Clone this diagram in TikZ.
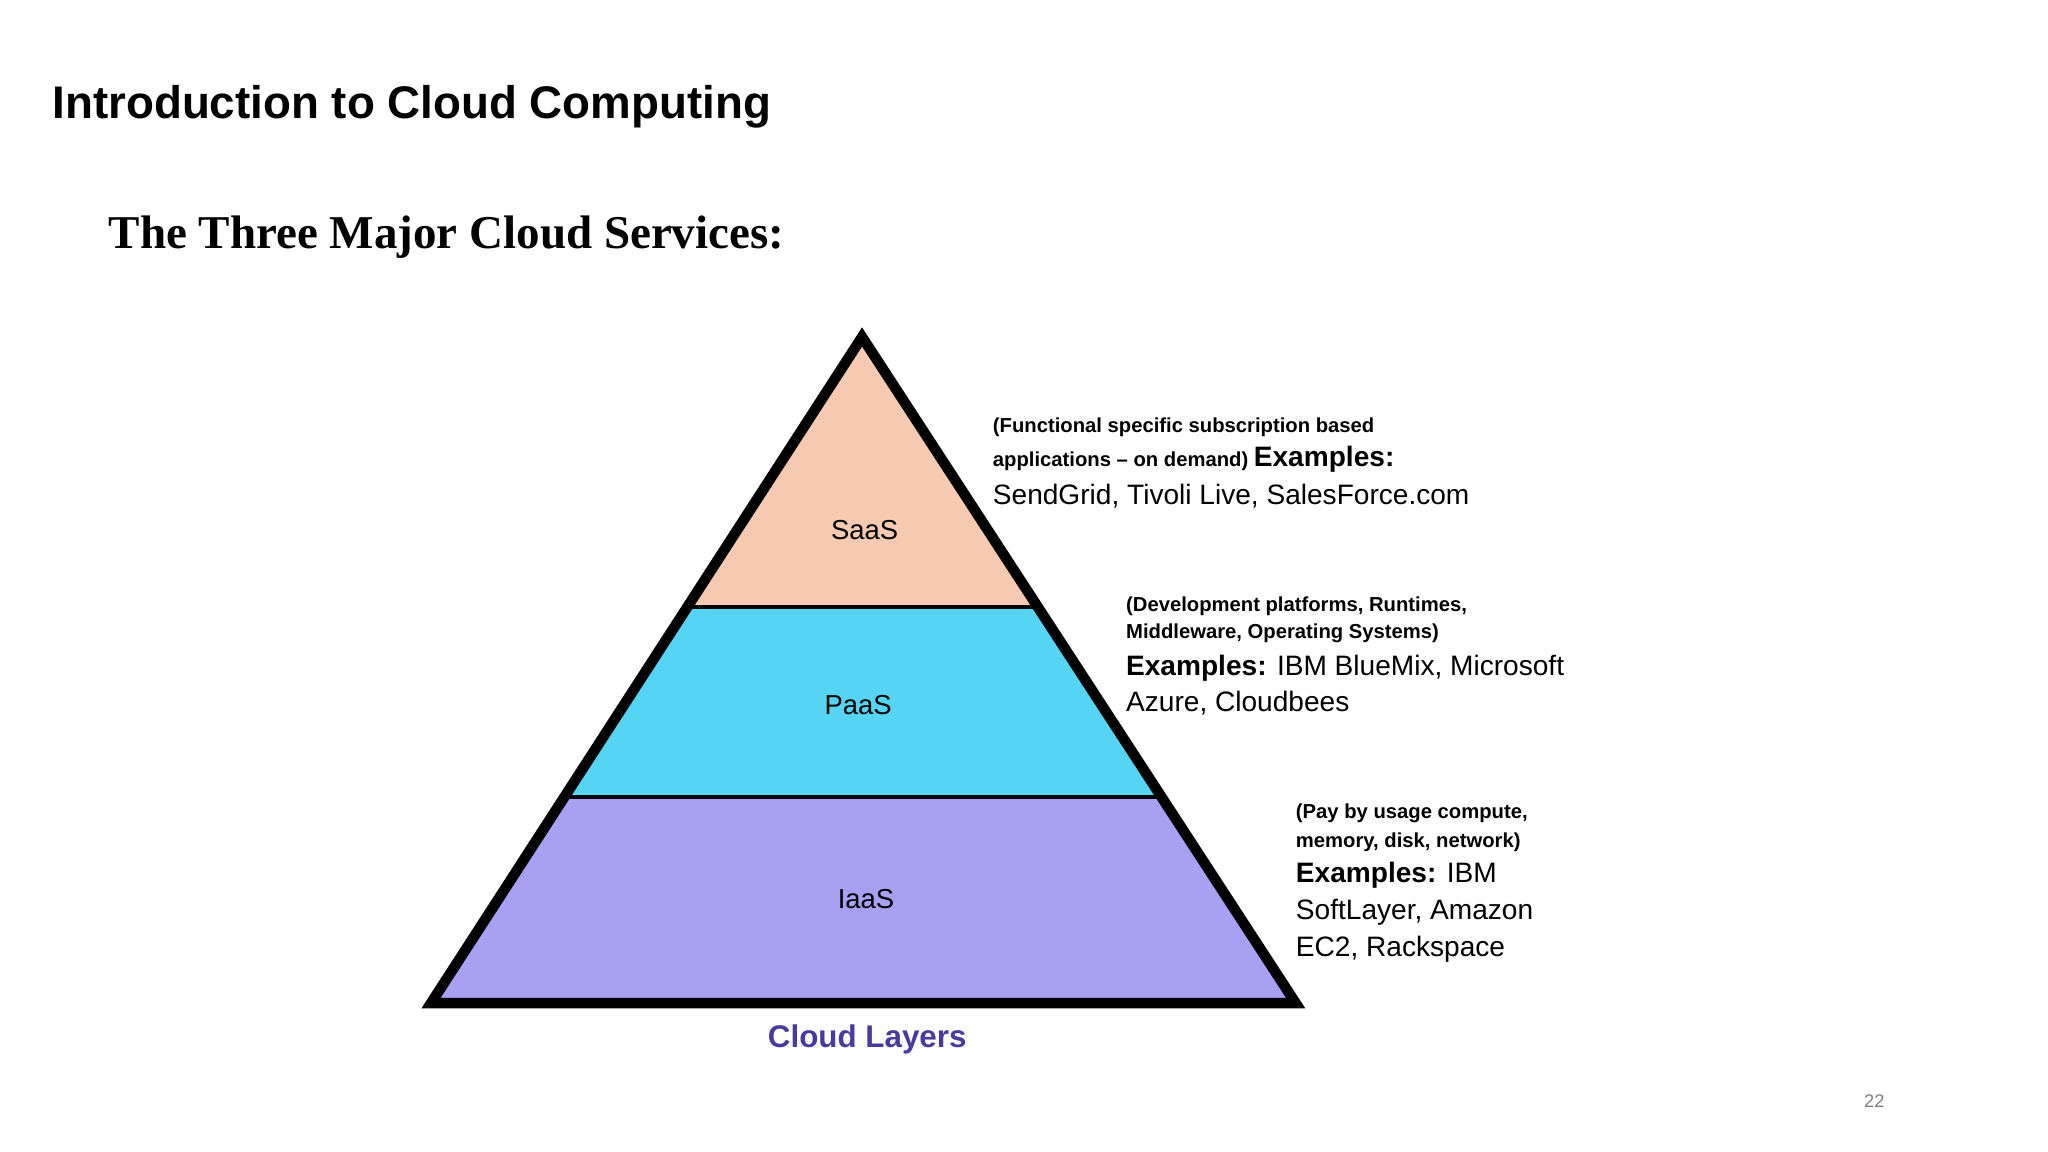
\documentclass[tikz,border=0pt]{standalone}
\usepackage{fontspec}
\setmainfont{Liberation Sans}
\newfontfamily\serifb{Liberation Serif}
\definecolor{saas}{HTML}{F6C9B1}
\definecolor{paas}{HTML}{55D5F3}
\definecolor{iaas}{HTML}{A8A0F2}
\definecolor{layer}{HTML}{4A3A9E}
\tikzset{sm/.style={anchor=base west,inner sep=0pt,font=\fontsize{15.5}{18}\selectfont\bfseries},
 ex/.style={anchor=base west,inner sep=0pt,font=\fontsize{21.5}{25}\selectfont},
 lay/.style={inner sep=0pt,font=\fontsize{21}{25}\selectfont}}
\begin{document}
\begin{tikzpicture}[x=1pt,y=-1pt]
\useasboundingbox (0,0) rectangle (1568,882);
\fill[white] (0,0) rectangle (1568,882);
\node[anchor=base west,inner sep=0pt,font=\fontsize{35}{40}\selectfont\bfseries] (title) at (40,91) {Introduction to Cloud Computing};
\node[anchor=base west,inner sep=0pt,font=\fontsize{36}{40}\selectfont\serifb\bfseries] (sub) at (83,190) {The Three Major Cloud Services:};
% pyramid
\coordinate (A) at (660,258); \coordinate (L) at (330,768); \coordinate (R) at (992,768);
\fill[saas] (A) -- (526,465) -- (795,465) -- cycle;
\fill[paas] (526,465) -- (432,610) -- (889,610) -- (795,465) -- cycle;
\fill[iaas] (432,610) -- (L) -- (R) -- (889,610) -- cycle;
\draw[line width=3pt] (526,465) -- (795,465);
\draw[line width=3pt] (432,610) -- (889,610);
\draw[line width=8pt,line join=miter] (A) -- (L) -- (R) -- cycle;
\node[lay] (s) at (662,406) {SaaS};
\node[lay] (p) at (657,540) {PaaS};
\node[lay] (i) at (663,688) {IaaS};
\node[inner sep=0pt,font=\fontsize{24}{28}\selectfont\bfseries,text=layer] (cl) at (664,796) {Cloud Layers};
% texts
\node[sm] (t1) at (760,331) {(Functional specific subscription based};
\node[sm] (t2) at (760,357) {applications -- on demand) {\fontsize{21.5}{25}\selectfont Examples:}};
\node[ex] (t3) at (760,386) {SendGrid, Tivoli Live, SalesForce.com};
\node[sm] (u1) at (862,468) {(Development platforms, Runtimes,};
\node[sm] (u2) at (862,489) {Middleware, Operating Systems)};
\node[ex] (u3) at (862,517) {\textbf{Examples:} IBM BlueMix, Microsoft};
\node[ex] (u4) at (862,545) {Azure, Cloudbees};
\node[sm] (v1) at (992,627) {(Pay by usage compute,};
\node[sm] (v2) at (992,649) {memory, disk, network)};
\node[ex] (v3) at (992,676) {\textbf{Examples:} IBM};
\node[ex] (v4) at (992,704) {SoftLayer, Amazon};
\node[ex] (v5) at (992,732) {EC2, Rackspace};
\node[anchor=base west,inner sep=0pt,font=\fontsize{14}{16}\selectfont,text=gray] (pg) at (1427,848) {22};
\end{tikzpicture}
\end{document}
